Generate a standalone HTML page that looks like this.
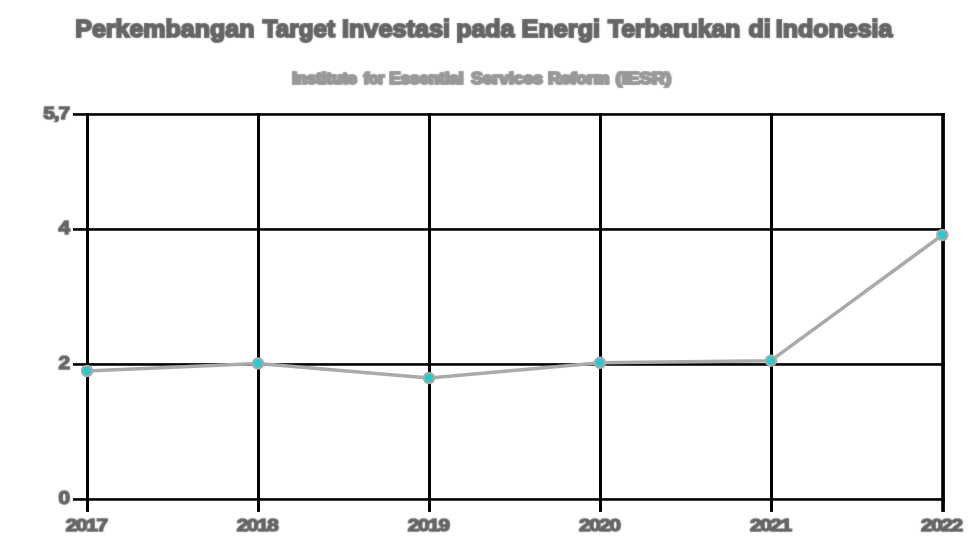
<!DOCTYPE html>
<html><head><meta charset="utf-8"><title>Chart</title>
<style>
html,body{margin:0;padding:0;background:#fff;}
body{width:968px;height:543px;overflow:hidden;}
svg{display:block;}
text{font-family:"Liberation Sans",sans-serif;font-weight:bold;stroke-linejoin:miter;stroke-miterlimit:4;}
.t{font-size:24.93px;fill:#666;stroke:#666;stroke-width:2.0px;}
.s{font-size:17.46px;fill:#999;stroke:#999;stroke-width:1.5px;}
.k{font-size:18.4px;fill:#666;stroke:#666;stroke-width:1.5px;}
.g rect{fill:#000;}
</style></head>
<body>
<svg width="968" height="543" viewBox="0 0 968 543">
<defs><filter id="b" filterUnits="userSpaceOnUse" x="0" y="0" width="968" height="543"><feConvolveMatrix order="3" kernelMatrix="0 1 0 1 4 1 0 1 0" edgeMode="duplicate" preserveAlpha="false"/></filter></defs>
<rect width="968" height="543" fill="#fff"/>
<g filter="url(#b)">
<text class="t" transform="translate(75.28,36.9) scale(1.0027,0.97)">Perkembangan</text>
<text class="t" transform="translate(262.80,36.9) scale(0.9717,0.97)">Target</text>
<text class="t" transform="translate(341.92,36.9) scale(1.0137,0.97)">Investasi</text>
<text class="t" transform="translate(456.16,36.9) scale(1.0002,0.97)">pada</text>
<text class="t" transform="translate(521.62,36.9) scale(1.0114,0.97)">Energi</text>
<text class="t" transform="translate(607.91,36.9) scale(0.9891,0.97)">Terbarukan</text>
<text class="t" transform="translate(748.38,36.9) scale(1.0061,0.97)">di</text>
<text class="t" transform="translate(775.83,36.9) scale(1.0024,0.97)">Indonesia</text>
<text class="s" transform="translate(291.50,84.1) scale(0.9534,0.95)">Institute</text>
<text class="s" transform="translate(292.20,84.1) scale(0.9534,0.95)">Institute</text>
<text class="s" transform="translate(292.90,84.1) scale(0.9534,0.95)">Institute</text>
<text class="s" transform="translate(363.10,84.1) scale(0.8848,0.95)">for</text>
<text class="s" transform="translate(363.80,84.1) scale(0.8848,0.95)">for</text>
<text class="s" transform="translate(364.50,84.1) scale(0.8848,0.95)">for</text>
<text class="s" transform="translate(388.70,84.1) scale(0.9660,0.95)">Essential</text>
<text class="s" transform="translate(389.40,84.1) scale(0.9660,0.95)">Essential</text>
<text class="s" transform="translate(390.10,84.1) scale(0.9660,0.95)">Essential</text>
<text class="s" transform="translate(470.45,84.1) scale(0.9980,0.95)">Services</text>
<text class="s" transform="translate(471.15,84.1) scale(0.9980,0.95)">Services</text>
<text class="s" transform="translate(471.85,84.1) scale(0.9980,0.95)">Services</text>
<text class="s" transform="translate(547.48,84.1) scale(1.0017,0.95)">Reform</text>
<text class="s" transform="translate(548.18,84.1) scale(1.0017,0.95)">Reform</text>
<text class="s" transform="translate(548.88,84.1) scale(1.0017,0.95)">Reform</text>
<text class="s" transform="translate(614.97,84.1) scale(1.0620,0.95)">(IESR)</text>
<text class="s" transform="translate(615.67,84.1) scale(1.0620,0.95)">(IESR)</text>
<text class="s" transform="translate(616.37,84.1) scale(1.0620,0.95)">(IESR)</text>
</g>
<g class="g">
<rect x="73" y="113.15" width="871.90" height="2.6"/>
<rect x="73" y="228.15" width="871.90" height="2.6"/>
<rect x="73" y="363.15" width="871.90" height="2.6"/>
<rect x="73" y="498.15" width="871.90" height="2.6"/>
<rect x="86" y="113.15" width="3" height="398.75"/>
<rect x="257" y="113.15" width="3" height="398.75"/>
<rect x="428" y="113.15" width="3" height="398.75"/>
<rect x="599" y="113.15" width="3" height="398.75"/>
<rect x="770" y="113.15" width="3" height="398.75"/>
<rect x="941.2" y="113.15" width="3.7" height="398.75"/>
</g>
<g filter="url(#b)">
<text class="k" text-anchor="middle" transform="translate(48.96,118.85) scale(1.13,0.93)">5</text>
<text class="k" text-anchor="middle" transform="translate(56.59,118.85) scale(1.13,0.93)">,</text>
<text class="k" text-anchor="middle" transform="translate(64.22,118.85) scale(1.13,0.93)">7</text>
<text class="k" text-anchor="middle" transform="translate(64.21,233.85) scale(1.13,1.0)">4</text>
<text class="k" text-anchor="middle" transform="translate(64.21,368.85) scale(1.13,1.0)">2</text>
<text class="k" text-anchor="middle" transform="translate(64.21,503.85) scale(1.13,1.0)">0</text>
<text class="k" text-anchor="middle" transform="translate(71.64,530.8) scale(1.13,0.94)">2</text>
<text class="k" text-anchor="middle" transform="translate(81.81,530.8) scale(1.13,0.94)">0</text>
<text class="k" text-anchor="middle" transform="translate(91.98,530.8) scale(1.13,0.94)">1</text>
<text class="k" text-anchor="middle" transform="translate(102.16,530.8) scale(1.13,0.94)">7</text>
<text class="k" text-anchor="middle" transform="translate(242.64,530.8) scale(1.13,0.94)">2</text>
<text class="k" text-anchor="middle" transform="translate(252.81,530.8) scale(1.13,0.94)">0</text>
<text class="k" text-anchor="middle" transform="translate(262.98,530.8) scale(1.13,0.94)">1</text>
<text class="k" text-anchor="middle" transform="translate(273.15,530.8) scale(1.13,0.94)">8</text>
<text class="k" text-anchor="middle" transform="translate(413.64,530.8) scale(1.13,0.94)">2</text>
<text class="k" text-anchor="middle" transform="translate(423.81,530.8) scale(1.13,0.94)">0</text>
<text class="k" text-anchor="middle" transform="translate(433.99,530.8) scale(1.13,0.94)">1</text>
<text class="k" text-anchor="middle" transform="translate(444.16,530.8) scale(1.13,0.94)">9</text>
<text class="k" text-anchor="middle" transform="translate(584.75,530.8) scale(1.13,0.94)">2</text>
<text class="k" text-anchor="middle" transform="translate(594.91,530.8) scale(1.13,0.94)">0</text>
<text class="k" text-anchor="middle" transform="translate(605.08,530.8) scale(1.13,0.94)">2</text>
<text class="k" text-anchor="middle" transform="translate(615.25,530.8) scale(1.13,0.94)">0</text>
<text class="k" text-anchor="middle" transform="translate(755.75,530.8) scale(1.13,0.94)">2</text>
<text class="k" text-anchor="middle" transform="translate(765.91,530.8) scale(1.13,0.94)">0</text>
<text class="k" text-anchor="middle" transform="translate(776.08,530.8) scale(1.13,0.94)">2</text>
<text class="k" text-anchor="middle" transform="translate(786.25,530.8) scale(1.13,0.94)">1</text>
<text class="k" text-anchor="middle" transform="translate(926.75,530.8) scale(1.13,0.94)">2</text>
<text class="k" text-anchor="middle" transform="translate(936.91,530.8) scale(1.13,0.94)">0</text>
<text class="k" text-anchor="middle" transform="translate(947.08,530.8) scale(1.13,0.94)">2</text>
<text class="k" text-anchor="middle" transform="translate(957.25,530.8) scale(1.13,0.94)">2</text>
</g>
<g>
<polyline points="87,371 258,363.5 429,378 600,362.8 771,360.7 942.4,235" fill="none" stroke="#aaa" stroke-width="3.5" stroke-linejoin="round"/>
<g fill="#22cdd2" stroke="#aaa" stroke-width="2.3">
<circle cx="87" cy="371" r="5.1"/>
<circle cx="258" cy="363.5" r="5.1"/>
<circle cx="429" cy="378" r="5.1"/>
<circle cx="600" cy="362.8" r="5.1"/>
<circle cx="771" cy="360.7" r="5.1"/>
<circle cx="942.4" cy="235" r="5.1"/>
</g>
</g>
</svg>
</body></html>
